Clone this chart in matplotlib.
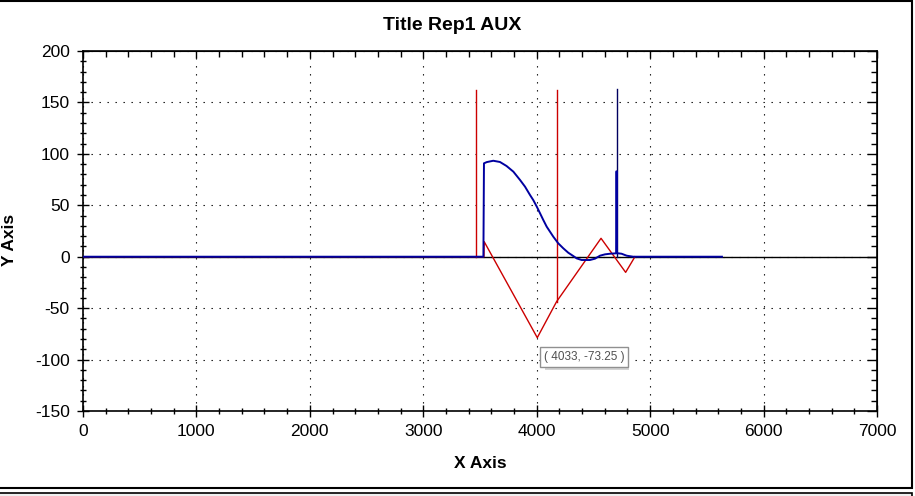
import numpy as np
import matplotlib.pyplot as plt
from matplotlib.patches import Rectangle

plt.rcParams['font.family'] = ['Liberation Sans', 'DejaVu Sans']
plt.rcParams['axes.unicode_minus'] = False

# blue series
blue_x = [0, 3530, 3535, 3560, 3617, 3676, 3734, 3794, 3853, 3897, 3941, 3970,
          4000, 4029, 4058, 4088, 4146, 4190, 4234, 4278, 4322, 4352, 4396, 4469,
          4514, 4558, 4602, 4646, 4700, 4702, 4706, 4708, 4719, 4748, 4793, 4851, 5633]
blue_y = [0, 0, 90.8, 92.0, 93.3, 92.1, 88.2, 82.7, 74.6, 68.1, 60.0, 55.0,
          48.8, 42.3, 35.7, 29.2, 19.5, 13.0, 8.2, 3.9, 0.7, -1.6, -3.2, -3.2,
          -1.9, 1.0, 2.3, 2.9, 3.3, 83.0, 83.0, 3.3, 3.3, 2.9, 1.0, 0, 0]

# red series
red_x = [0, 3535, 3537, 4005, 4175, 4567, 4784, 4866]
red_y = [0, 0, 14.6, -78.7, -43.7, 17.9, -15.2, 0]

# marker lines (x, bottom, top, colour)
marker_x = [3465, 4175, 4705]
marker_bottom = [0, -43.7, 0]
marker_top = [162, 162, 163]
marker_color = ['#CC0000', '#CC0000', '#000060']

fig = plt.figure(figsize=(9.15, 4.96), dpi=100)
ax = fig.add_axes([83 / 915, 1 - 411 / 496, 794 / 915, 360 / 496])

ax.set_xlim(0, 7000)
ax.set_ylim(-150, 200)
ax.set_xticks(np.arange(0, 7001, 1000))
ax.set_yticks(np.arange(-150, 201, 50))
ax.set_xticks(np.arange(0, 7001, 200), minor=True)
ax.set_yticks(np.arange(-150, 201, 10), minor=True)

ax.grid(True, which='major', color='black', lw=0.8, linestyle=(0, (1.2, 6)))
ax.axhline(0, color='black', lw=1.0, zorder=2)

ax.plot(red_x, red_y, color='#CC0000', lw=1.0, zorder=3)
for mx, mb, mt, mc in zip(marker_x, marker_bottom, marker_top, marker_color):
    ax.plot([mx, mx], [mb, mt], color=mc, lw=1.0, zorder=3)
ax.plot(blue_x, blue_y, color='#0000A0', lw=1.4, zorder=4)

for s in ax.spines.values():
    s.set_linewidth(1.2)
    s.set_color('black')

ax.tick_params(which='major', direction='inout', length=9, width=1.0,
               labelsize=12.5, top=False, right=False, pad=5)
ax.tick_params(which='minor', direction='inout', length=4, width=1.0,
               top=False, right=False)

sx = ax.secondary_xaxis('top')
sx.set_xticks(np.arange(0, 7001, 1000))
sx.set_xticks(np.arange(0, 7001, 200), minor=True)
sx.tick_params(which='major', direction='in', length=5, width=1.0, labeltop=False)
sx.tick_params(which='minor', direction='in', length=4, width=1.0)
sy = ax.secondary_yaxis('right')
sy.set_yticks(np.arange(-150, 201, 50))
sy.set_yticks(np.arange(-150, 201, 10), minor=True)
sy.tick_params(which='major', direction='in', length=7, width=1.0, labelright=False)
sy.tick_params(which='minor', direction='in', length=4, width=1.0)

# tooltip with a light drop shadow
fig.patches.append(Rectangle((545 / 915, 1 - 370 / 496), 84 / 915, 20 / 496,
                             transform=fig.transFigure, fc='#d4d4d4', ec='none', zorder=5))
fig.text(584 / 915, 1 - 357 / 496, '( 4033, -73.25 )',
         ha='center', va='center', fontsize=8.5, color='#505050',
         bbox=dict(boxstyle='square,pad=0.35', fc='white', ec='#909090', lw=1.0),
         zorder=7)

fig.text(451.7 / 915, 1 - 25 / 496, 'Title Rep1 AUX', ha='center', va='center',
         fontsize=14, fontweight='bold')
fig.text(480 / 915, 1 - 463 / 496, 'X Axis', ha='center', va='center',
         fontsize=12.5, fontweight='bold')
fig.text(10 / 915, 1 - 240 / 496, 'Y Axis', ha='center', va='center',
         fontsize=12.5, fontweight='bold', rotation=90)

# window frame
fig.patches.append(Rectangle((-5 / 915, 1 - 488 / 496), 917 / 915, 487 / 496,
                             transform=fig.transFigure, fill=False, ec='black', lw=1.5))
fig.patches.append(Rectangle((-5 / 915, -5 / 496), 917 / 915, 8 / 496,
                             transform=fig.transFigure, fc='#f0f0f0', ec='black', lw=1.2))

fig.savefig('out.png', dpi=100)
